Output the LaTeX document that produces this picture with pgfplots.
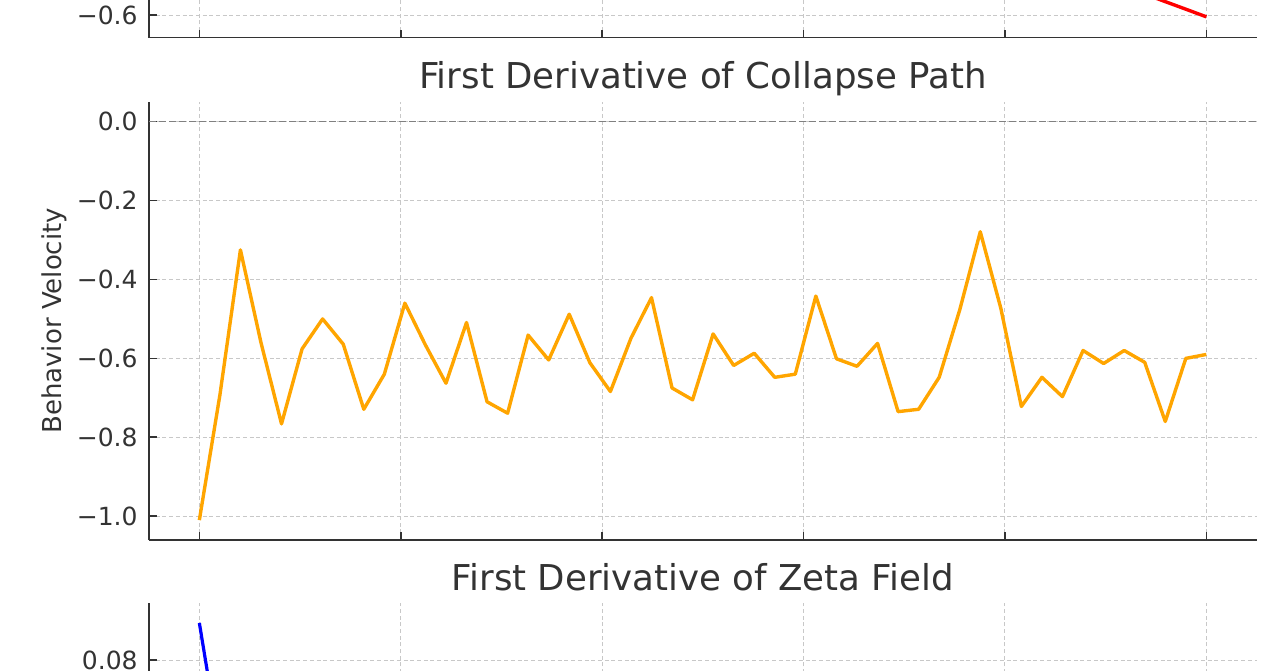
\documentclass[border=0pt]{standalone}
\usepackage{fontspec}
\setmainfont{DejaVu Sans}
\usepackage{pgfplots}
\pgfplotsset{compat=1.18}

\definecolor{txt}{HTML}{333333}
\definecolor{gridc}{HTML}{C8C8C8}
\definecolor{zeroc}{HTML}{808080}
\definecolor{mplorange}{HTML}{FFA500}

\pgfplotsset{
  panel/.style={
    scale only axis, width=553.85pt, height=219.15pt,
    xmin=-0.5, xmax=10.5,
    axis x line*=bottom, axis y line*=left,
    x axis line style={-}, y axis line style={-},
    axis line style={draw=txt, line width=0.8pt},
    tick align=inside, major tick length=3.75pt,
    tick style={draw=txt, line width=0.8pt},
    scaled y ticks=false,
    xtick={0,2,4,6,8,10}, xticklabels={},
    grid=major,
    major grid style={draw=gridc, line width=0.5pt, dash pattern=on 2pt off 1.35pt},
    ticklabel style={font=\fontsize{12.5}{15}\selectfont, text=txt},
    yticklabel style={inner sep=0pt, xshift=-5.5pt},
    title style={font=\fontsize{17.8}{21}\selectfont, text=txt,
      at={(axis description cs:0.5,1)}, anchor=base, yshift=0.4pt},
    ylabel style={font=\fontsize{13}{15}\selectfont, text=txt,
      at={(axis description cs:-0.0975,0.5)}, anchor=north, inner sep=0pt},
  }
}

\begin{document}
\begin{tikzpicture}
\useasboundingbox (0,0) rectangle (640pt,335pt);
\clip (0,0) rectangle (640pt,335pt);

% top panel (only its lower edge shows)
\begin{axis}[panel, at={(74.5pt,316.15pt)}, anchor=south west,
  ymin=-0.6378, ymax=0.0927,
  ytick={-0.6}, yticklabels={−0.6}]
\addplot[red, line width=1.7pt] coordinates {
  (9.184,-0.552) (9.388,-0.565) (9.592,-0.5777) (9.796,-0.5903) (10,-0.603)};
\end{axis}

% middle panel
\begin{axis}[panel, at={(74.5pt,65pt)}, anchor=south west,
  ymin=-1.0604, ymax=0.0507,
  ytick={-1.0,-0.8,-0.6,-0.4,-0.2,0.0},
  yticklabels={−1.0,−0.8,−0.6,−0.4,−0.2,0.0},
  title={First Derivative of Collapse Path},
  ylabel={Behavior Velocity}]
\addplot[zeroc, line width=0.6pt, dash pattern=on 3.3pt off 1.7pt]
  coordinates {(-0.5,0) (10.5,0)};
\addplot[mplorange, line width=1.7pt, line join=round] coordinates {
  (0,-1.010) (0.204,-0.693) (0.408,-0.325) (0.612,-0.560) (0.816,-0.766)
  (1.020,-0.576) (1.224,-0.500) (1.429,-0.564) (1.633,-0.729) (1.837,-0.640)
  (2.041,-0.460) (2.245,-0.566) (2.449,-0.663) (2.653,-0.509) (2.857,-0.710)
  (3.061,-0.739) (3.265,-0.541) (3.469,-0.604) (3.673,-0.488) (3.878,-0.611)
  (4.082,-0.684) (4.286,-0.549) (4.490,-0.446) (4.694,-0.675) (4.898,-0.705)
  (5.102,-0.538) (5.306,-0.618) (5.510,-0.587) (5.714,-0.648) (5.918,-0.640)
  (6.122,-0.442) (6.327,-0.601) (6.531,-0.620) (6.735,-0.562) (6.939,-0.735)
  (7.143,-0.729) (7.347,-0.648) (7.551,-0.477) (7.755,-0.279) (7.959,-0.473)
  (8.163,-0.722) (8.367,-0.648) (8.571,-0.697) (8.776,-0.580) (8.980,-0.613)
  (9.184,-0.580) (9.388,-0.610) (9.592,-0.760) (9.796,-0.600) (10,-0.590)};
\end{axis}

% bottom panel (only its upper edge shows)
\begin{axis}[panel, at={(74.5pt,-185.8pt)}, anchor=south west,
  ymin=-0.0154, ymax=0.0942,
  ytick={0,0.02,0.04,0.06,0.08},
  yticklabels={0.00,0.02,0.04,0.06,0.08},
  title={First Derivative of Zeta Field}]
\addplot[blue, line width=1.6pt] coordinates {
  (0,0.0893) (0.204,0.058) (0.408,0.041) (0.612,0.030) (0.816,0.024)};
\end{axis}
\end{tikzpicture}
\end{document}
